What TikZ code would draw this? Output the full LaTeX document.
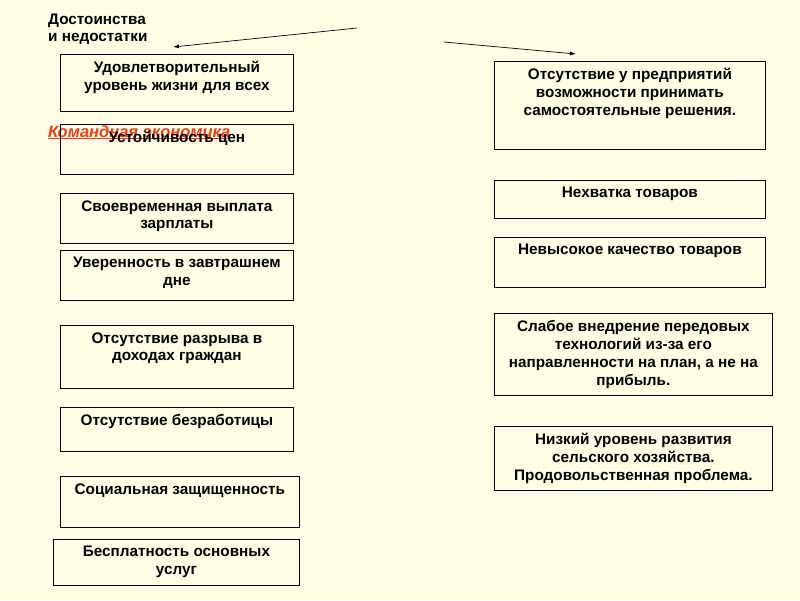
\documentclass[tikz,border=0pt]{standalone}
\usepackage{fontspec}
\setmainfont{Liberation Sans}
\usetikzlibrary{arrows.meta, positioning}
\definecolor{paper}{RGB}{255,255,230}
\definecolor{cmdred}{RGB}{240,60,20}
\newcommand{\cellbox}[3]{\parbox[c][#2pt][t]{#1pt}{\centering\vspace{7pt}#3}}

\begin{document}
\begin{tikzpicture}[
    x=1pt, y=-1pt,
    box/.style = {rectangle, draw=black, line width=0.8pt, inner sep=0pt, anchor=north west,
                  font=\fontsize{15.3}{17.8}\selectfont\bfseries},
    title/.style = {anchor=north west, inner sep=0pt, align=left,
                    font=\fontsize{15.3}{17}\selectfont\bfseries},
    arrow/.style = {-{Latex[length=6pt, width=4pt]}, line width=0.7pt}
]
\fill[paper] (0,0) rectangle (800,600);
\useasboundingbox (0,0) rectangle (800,600);

% Title and label
\node[title] (T) at (48,14) {Достоинства\\и недостатки};
\node[anchor=base west, inner sep=0pt, text=cmdred,
      font=\fontsize{16.5}{18}\selectfont\bfseries\itshape] (CE) at (48,137) {\underline{Командная экономика}};

% Left column
\node[box] (L1) at (60,54)  {\cellbox{233}{57}{Удовлетворительный\\уровень жизни для всех}};
\node[box] (L2) at (60,124) {\cellbox{233}{50}{Устойчивость цен}};
\node[box] (L3) at (60,193) {\cellbox{233}{50}{Своевременная выплата\\зарплаты}};
\node[box] (L4) at (60,250) {\cellbox{233}{50}{Уверенность в завтрашнем\\дне}};
\node[box] (L5) at (60,325) {\cellbox{233}{63}{Отсутствие разрыва в\\доходах граждан}};
\node[box] (L6) at (60,407) {\cellbox{233}{44}{Отсутствие безработицы}};
\node[box] (L7) at (60,476) {\cellbox{239}{51}{Социальная защищенность}};
\node[box] (L8) at (53,539) {\cellbox{246}{46}{Бесплатность основных\\услуг}};

% Right column
\node[box] (R1) at (494,61)  {\cellbox{271}{88}{Отсутствие у предприятий\\возможности принимать\\самостоятельные решения.}};
\node[box] (R2) at (494,180) {\cellbox{271}{38}{Нехватка товаров}};
\node[box] (R3) at (494,237) {\cellbox{271}{50}{Невысокое качество товаров}};
\node[box] (R4) at (494,313) {\cellbox{278}{82}{Слабое внедрение передовых\\технологий из-за его\\направленности на план, а не на\\прибыль.}};
\node[box] (R5) at (494,426) {\cellbox{278}{64}{Низкий уровень развития\\сельского хозяйства.\\Продовольственная проблема.}};

% Arrows
\coordinate (A1) at (357,28);
\coordinate (A2) at (444,42);
\coordinate (E1) at (173,47);
\coordinate (E2) at (576,54);
\draw[arrow] (A1) -- (E1);
\draw[arrow] (A2) -- (E2);

\end{tikzpicture}
\end{document}
